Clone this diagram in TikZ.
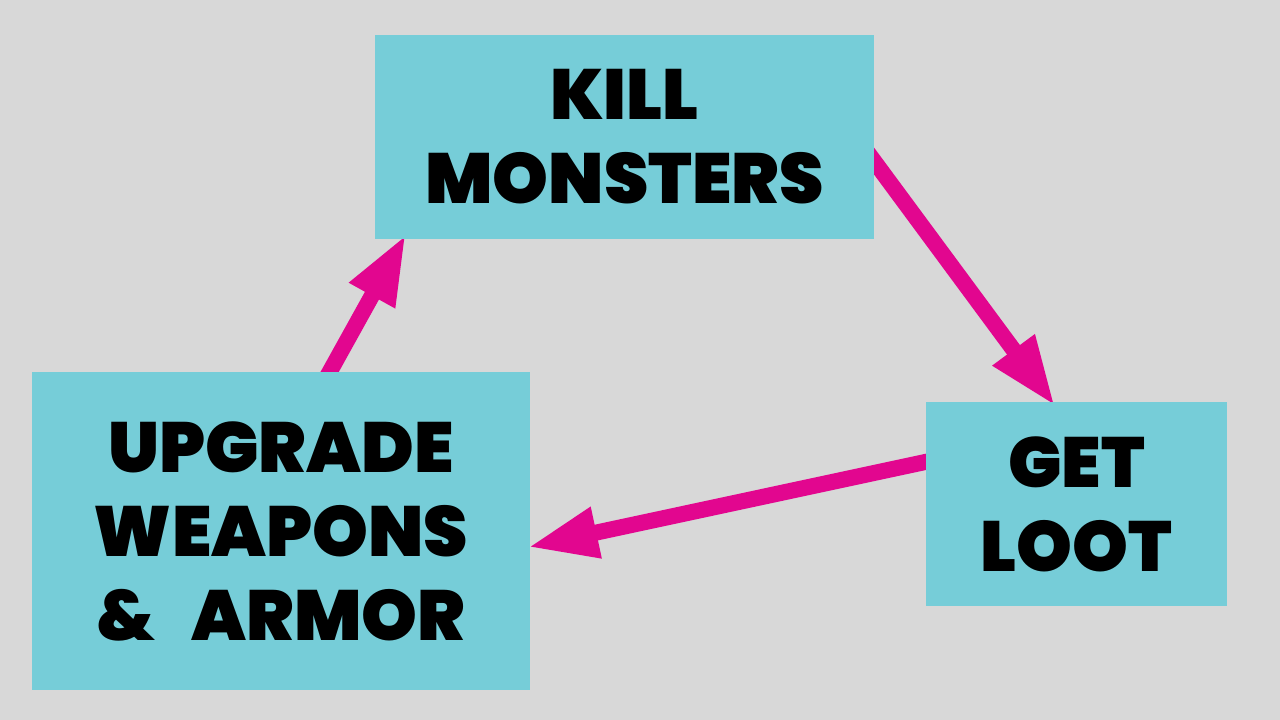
\documentclass[tikz,border=0pt]{standalone}
\usepackage{fontspec}
\setmainfont{Poppins}
\newfontfamily\heavyfont{Poppins Black}
\usetikzlibrary{arrows.meta}
\definecolor{bgGray}{HTML}{D8D8D8}
\definecolor{boxCyan}{HTML}{76CDD8}
\definecolor{loopPink}{HTML}{E2068F}
\pgfdeclarelayer{bg}
\pgfsetlayers{bg,main}
\tikzset{
  stepbox/.style={fill=boxCyan,inner sep=0pt,align=center,
    font=\heavyfont\fontsize{20.2}{23.9}\selectfont},
  looparrow/.style={loopPink,line width=1.6mm,shorten <=-4mm,shorten >=-0.6mm,
    -{Triangle[length=7mm,width=4.8mm]}}
}
\begin{document}
\begin{tikzpicture}
  \pgfmathsetmacro\picw{12.8}
  \pgfmathsetmacro\pich{7.2}

% background
  \begin{pgfonlayer}{bg}
    \fill[bgGray] (0,0) rectangle (\picw,\pich);
  \end{pgfonlayer}
  \useasboundingbox (0,0) rectangle (\picw,\pich);

% the three steps of the loop
  \node[stepbox,minimum width=4.99cm,minimum height=2.04cm] (kill)    at (6.245,5.83) {KILL\\MONSTERS};
  \node[stepbox,minimum width=3.01cm,minimum height=2.04cm] (loot)    at (10.765,2.16) {GET\\LOOT};
  \node[stepbox,minimum width=4.98cm,minimum height=3.18cm] (upgrade) at (2.81,1.89) {UPGRADE\\WEAPONS\\\&\ \ \,ARMOR};

% arrows between the steps
  \begin{pgfonlayer}{bg}
    \draw[looparrow] ([yshift=-2.5mm]kill.east)    -- ([xshift=-2.5mm]loot.north);
    \draw[looparrow] ([yshift=4.2mm]loot.west)     -- ([xshift=0.3mm,yshift=-1.5mm]upgrade.east);
    \draw[looparrow] ([xshift=4.9mm]upgrade.north) -- ([xshift=-22.15mm]kill.south);
  \end{pgfonlayer}
\end{tikzpicture}
\end{document}
